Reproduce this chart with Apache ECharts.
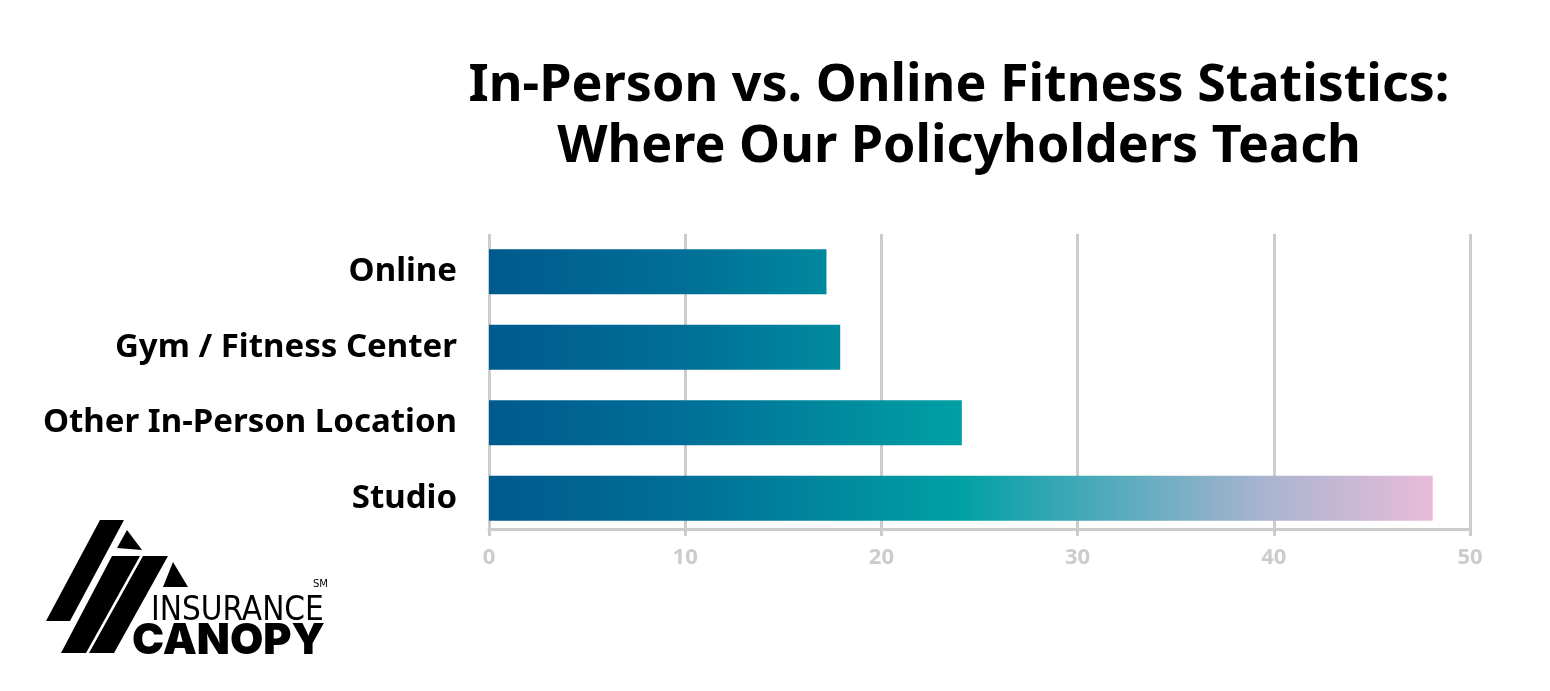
<!DOCTYPE html>
<html><head><meta charset="utf-8">
<script src="https://cdn.jsdelivr.net/npm/echarts@6/dist/echarts.min.js"></script>
<style>html,body{margin:0;padding:0;background:#fff}#c{width:1550px;height:691px}</style>
</head><body><div id="c"></div>
<script>
const categories = ['Online', 'Gym / Fitness Center', 'Other In-Person Location', 'Studio'];
const values = [17.2, 17.9, 24.1, 48.1];
const xTicks = [0, 10, 20, 30, 40, 50];
const titleLines = ['In-Person vs. Online Fitness Statistics:', 'Where Our Policyholders Teach'];

const chart = echarts.init(document.getElementById('c'), null, {renderer: 'canvas'});
const FONT = '"Noto Sans", "Open Sans", sans-serif';

function gradient(x0, x1) {
  return {type: 'linear', x: x0, y: 0, x2: x1, y2: 0, global: true, colorStops: [
    {offset: 0, color: '#005a8e'},
    {offset: 0.2, color: '#006e97'},
    {offset: 0.38, color: '#008c9e'},
    {offset: 0.5, color: '#00a0a5'},
    {offset: 0.65, color: '#4eaabb'},
    {offset: 0.82, color: '#a8b4cf'},
    {offset: 1, color: '#e8bcda'}
  ]};
}

const option = {
  backgroundColor: '#fff',
  animation: false,
  title: {
    text: titleLines.join('\n'),
    left: 954, top: 51, textAlign: 'center',
    textStyle: {fontFamily: FONT, fontWeight: 'bold', fontSize: 52, lineHeight: 61, color: '#000'}
  },
  grid: {left: 489, right: 80, top: 234, bottom: 155, containLabel: false},
  xAxis: {
    type: 'value', min: 0, max: 50, interval: 10, offset: -7,
    axisLine: {show: true, lineStyle: {color: '#cccccc', width: 3}},
    axisTick: {show: false},
    splitLine: {show: true, lineStyle: {color: '#cccccc', width: 3}},
    axisLabel: {color: '#cccccc', fontFamily: FONT, fontSize: 22, fontWeight: 'bold', margin: 18,
      formatter: v => xTicks.includes(v) ? String(v) : ''}
  },
  yAxis: {
    type: 'category', data: categories, inverse: true,
    axisLine: {show: false}, axisTick: {show: false},
    axisLabel: {color: '#000', fontFamily: FONT, fontWeight: 'bold', fontSize: 33, margin: 32}
  },
  series: [{
    type: 'bar', data: values, barWidth: 45,
    itemStyle: {color: gradient(489, 1432)}
  }],
  graphic: [
    {type: 'polygon', shape: {points: [[100,520],[124,520],[70,621],[46,621]]}, style: {fill: '#000'}},
    {type: 'polygon', shape: {points: [[127,530],[142,550],[117,548]]}, style: {fill: '#000'}},
    {type: 'polygon', shape: {points: [[112,556],[140,556],[86,653],[61,653]]}, style: {fill: '#000'}},
    {type: 'polygon', shape: {points: [[173,562],[188,587],[163,587]]}, style: {fill: '#000'}},
    {type: 'polygon', shape: {points: [[143,556],[168,556],[114,653],[89,653]]}, style: {fill: '#000'}},
    {type: 'text', left: 151, top: 595, style: {text: 'INSURANCE', fill: '#000', font: '300 33px "Liberation Sans Narrow", "DejaVu Sans Condensed", sans-serif'}},
    {type: 'text', left: 313, top: 579, style: {text: 'SM', fill: '#000', font: '10px "DejaVu Sans", sans-serif'}},
    {type: 'text', left: 132, top: 620, style: {text: 'CANOPY', fill: '#000', font: '900 43px "Inter", "DejaVu Sans", sans-serif'}}
  ]
};
chart.setOption(option);
const x0 = chart.convertToPixel({xAxisIndex: 0}, 0);
const xMax = chart.convertToPixel({xAxisIndex: 0}, Math.max(...values));
chart.setOption({series: [{itemStyle: {color: gradient(x0, xMax)}}]});
</script></body></html>
